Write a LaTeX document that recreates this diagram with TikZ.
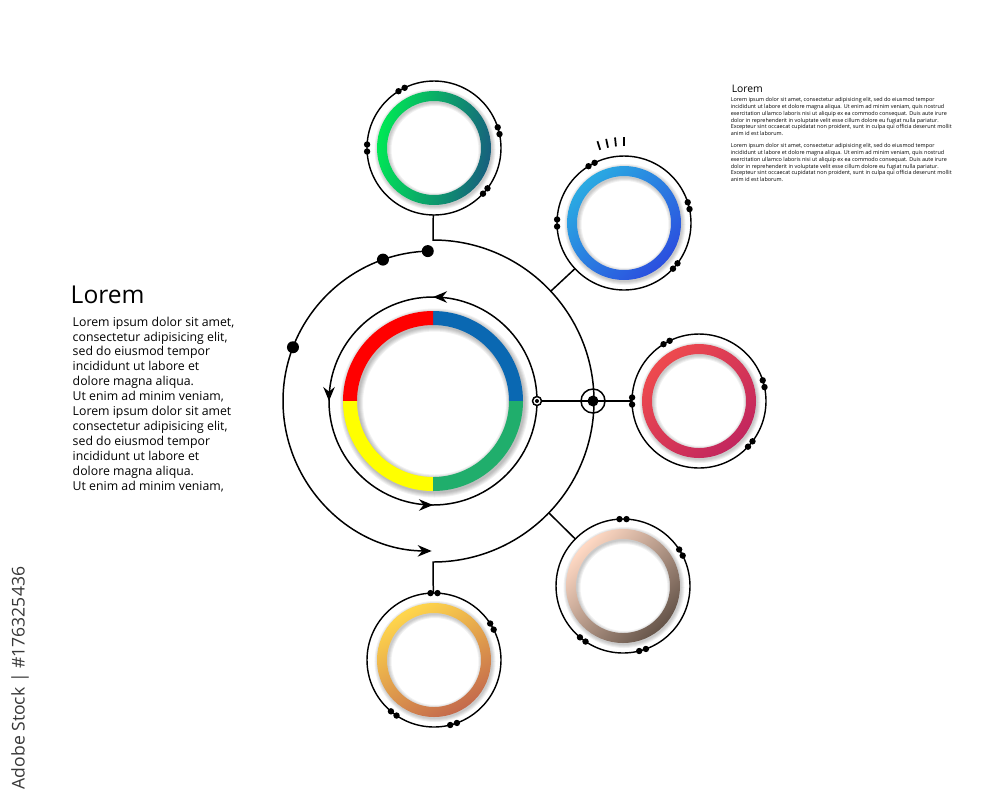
\documentclass[tikz,border=0pt]{standalone}
\usepackage{fontspec}
\setmainfont{Open Sans}
\usepackage{xcolor}
\usepackage{tikz}
\usetikzlibrary{shapes,arrows.meta,positioning,calc,decorations.markings}

\definecolor{ringred}{HTML}{FF0000}
\definecolor{ringblue}{HTML}{0A68B2}
\definecolor{ringgreen}{HTML}{20AE6C}
\definecolor{ringyellow}{HTML}{FFFF00}
\definecolor{greenA}{HTML}{00E855}
\definecolor{greenB}{HTML}{17607E}
\definecolor{blueA}{HTML}{2AAAE2}
\definecolor{blueB}{HTML}{2B4FDF}
\definecolor{redA}{HTML}{EE4A4E}
\definecolor{redB}{HTML}{C2265E}
\definecolor{brownA}{HTML}{FFD9C4}
\definecolor{brownB}{HTML}{655449}
\definecolor{yellowA}{HTML}{FFD64C}
\definecolor{yellowB}{HTML}{C46A4C}

\tikzset{
  satring/.style={shape=circle, draw=black, line width=0.8pt, minimum size=2.68cm, inner sep=0pt, outer sep=0pt},
  ringshadow/.style={black, opacity=0.055},
  tipstyle/.style={-{Stealth[length=2.8mm,width=2.3mm]}}
}

\begin{document}
\begin{tikzpicture}[x=0.02cm, y=0.02cm, line width=0.85pt]

\fill [white] (0,0) rectangle (1000,-806);
\useasboundingbox (0,0) rectangle (1000,-806);

\coordinate (centre) at (433,-401);

% Satellite circles
\node [satring] at (434,-148) (sat_top) {};
\node [satring] at (624,-223) (sat_blue) {};
\node [satring] at (699,-401) (sat_red) {};
\node [satring] at (623,-586) (sat_brown) {};
\node [satring] at (434,-660) (sat_yellow) {};

% Shadows of the rings
\foreach \w in {0.30,0.34,0.38,0.42,0.46}
  \draw [ringshadow, line width=\w cm] ($(centre)+(1.5,-2)$) circle (83);
\foreach \s in {sat_top,sat_blue,sat_red,sat_brown,sat_yellow}
  \foreach \w in {0.22,0.26,0.30,0.34}
    \draw [ringshadow, line width=\w cm] ($(\s)+(1,-1.5)$) circle (52);

% Centre ring in four quarters
\foreach \a/\c in {0/ringblue,90/ringred,180/ringyellow,270/ringgreen}
  \fill [\c] ($(centre)+(\a:90)$) arc [start angle=\a, delta angle=90, radius=90]
    -- ($(centre)+(\a+90:76)$) arc [start angle=\a+90, delta angle=-90, radius=76] -- cycle;

% Gradient rings of the satellites
\foreach \s/\ca/\cb/\ang in {sat_top/greenA/greenB/80, sat_blue/blueA/blueB/45, sat_red/redA/redB/45, sat_brown/brownA/brownB/45, sat_yellow/yellowA/yellowB/30}
  \shade [top color=\ca, bottom color=\cb, shading angle=\ang, even odd rule] (\s) circle (57) (\s) circle (47);

% Inner circle with arrows
\draw [postaction={decorate}, decoration={markings,
    mark=at position 0.25 with {\arrow{Stealth[length=2.8mm,width=2.3mm]}},
    mark=at position 0.5 with {\arrow{Stealth[length=2.8mm,width=2.3mm]}},
    mark=at position 0.75 with {\arrow{Stealth[length=2.8mm,width=2.3mm]}}}]
  (centre) circle (104);

% Outer right arc joining top and bottom satellites
\coordinate (arc_top) at ($(centre)+(90:161)$);
\draw (sat_top) -- (arc_top) arc [start angle=90, end angle=-90, radius=161] -- (sat_yellow);

% Outer left arc
\draw [tipstyle] ($(centre)+(92:150)$) arc [start angle=92, end angle=269.5, radius=150];
\foreach \a in {92,109.5,159}
  \fill ($(centre)+(\a:150)$) circle (6);

% Connectors to the side satellites
\coordinate (join_blue) at ($(centre)+(43:161)$);
\coordinate (join_brown) at ($(centre)+(-44:161)$);
\draw (join_blue) edge (sat_blue);
\draw (join_brown) edge (sat_brown);

% Target and crossing marker towards red satellite
\node [shape=circle, draw=black, fill=white, minimum size=0.18cm, inner sep=0pt, outer sep=0pt] at ($(centre)+(0:104)$) (target_in) {};
\draw (target_in) -- (sat_red);
\fill (target_in) circle (2);
\node [shape=circle, fill=black, minimum size=0.22cm, inner sep=0pt] at ($(centre)+(0:160)$) (cross_dot) {};
\node [shape=circle, draw=black, minimum size=0.48cm, inner sep=0pt] at (cross_dot) (cross_ring) {};

% Dots on the satellite circles
\foreach \s in {sat_top,sat_blue,sat_red}
  \foreach \a in {116,122,177,183,12,18,317,323}
    \fill (\s.\a) circle (3.2);
\foreach \s in {sat_brown,sat_yellow}
  \foreach \a in {87,93,27,33,230,236,284,290}
    \fill (\s.\a) circle (3.2);

% Ticks above blue satellite
\foreach \a in {90,96,102,108}
  \draw [line width=1pt] ($(sat_blue)+(\a:77)$) -- ($(sat_blue)+(\a:86)$);

% Left text
\node [anchor=base west, inner sep=0pt, font=\fontsize{14}{17}\selectfont] at (70,-303) (left_title) {Lorem};
\node [anchor=north west, inner sep=0pt, align=left, font=\fontsize{7}{8.5}\selectfont] at (72,-316) (left_text) {Lorem ipsum dolor sit amet,\\
consectetur adipisicing elit,\\
sed do eiusmod tempor\\
incididunt ut labore et\\
dolore magna aliqua.\\
Ut enim ad minim veniam,\\
Lorem ipsum dolor sit amet\\
consectetur adipisicing elit,\\
sed do eiusmod tempor\\
incididunt ut labore et\\
dolore magna aliqua.\\
Ut enim ad minim veniam,};

% Right text
\node [anchor=base west, inner sep=0pt, font=\fontsize{5.9}{7}\selectfont] at (731,-92) (right_title) {Lorem};
\node [anchor=north west, inner sep=0pt, align=left, font=\fontsize{3.1}{3.85}\selectfont] at (730,-97) (right_text_a) {Lorem ipsum dolor sit amet, consectetur adipisicing elit, sed do eiusmod tempor\\
incididunt ut labore et dolore magna aliqua. Ut enim ad minim veniam, quis nostrud\\
exercitation ullamco laboris nisi ut aliquip ex ea commodo consequat. Duis aute irure\\
dolor in reprehenderit in voluptate velit esse cillum dolore eu fugiat nulla pariatur.\\
Excepteur sint occaecat cupidatat non proident, sunt in culpa qui officia deserunt mollit\\
anim id est laborum.};
\node [anchor=north west, inner sep=0pt, align=left, font=\fontsize{3.1}{3.85}\selectfont] at (730,-143) (right_text_b) {Lorem ipsum dolor sit amet, consectetur adipisicing elit, sed do eiusmod tempor\\
incididunt ut labore et dolore magna aliqua. Ut enim ad minim veniam, quis nostrud\\
exercitation ullamco laboris nisi ut aliquip ex ea commodo consequat. Duis aute irure\\
dolor in reprehenderit in voluptate velit esse cillum dolore eu fugiat nulla pariatur.\\
Excepteur sint occaecat cupidatat non proident, sunt in culpa qui officia deserunt mollit\\
anim id est laborum.};

% Stock tag
\node [rotate=90, inner sep=0pt, text=black!78, font=\fontsize{10}{12}\selectfont] at (20,-678) (stock_tag) {Adobe Stock | \#176325436};

\end{tikzpicture}
\end{document}
